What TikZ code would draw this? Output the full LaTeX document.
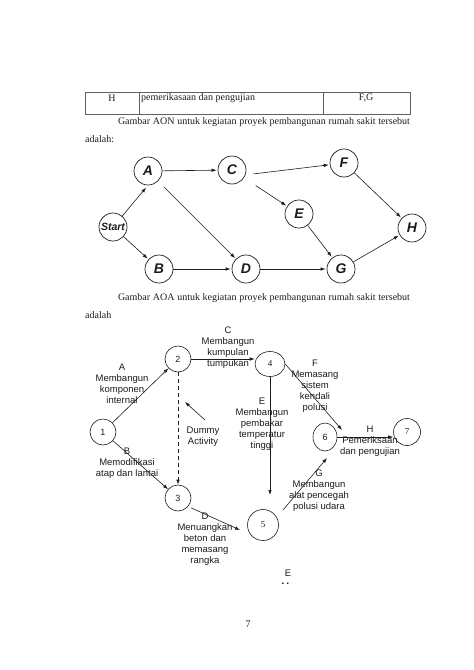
\documentclass[tikz,border=0pt]{standalone}
\usepackage{fontspec}
\setmainfont{Liberation Serif}
\setsansfont{Liberation Sans}
\usetikzlibrary{arrows.meta,calc,shapes.geometric}
\definecolor{ink}{HTML}{1C1C1C}

\tikzset{
  aon/.style={circle,draw=ink,line width=0.7pt,minimum size=28pt,inner sep=0pt,
    font=\sffamily\bfseries\itshape\fontsize{14}{14}\selectfont},
  aoa/.style={circle,draw=ink,line width=0.6pt,minimum size=26pt,inner sep=0pt,
    font=\sffamily\fontsize{9}{9}\selectfont},
  aoaser/.style={ellipse,draw=ink,line width=0.6pt,inner sep=0pt,
    font=\rmfamily\fontsize{9}{9}\selectfont},
  act/.style={align=center,inner sep=0pt,font=\sffamily\fontsize{9.5}{11}\selectfont},
  body/.style={inner sep=0pt,font=\rmfamily\fontsize{10}{12}\selectfont},
  arr/.style={-{Latex[length=5pt,width=3.5pt]},line width=0.6pt,draw=ink}
}

\begin{document}
\begin{tikzpicture}[x=1pt,y=-1pt,text=ink]
  \useasboundingbox (0,0) rectangle (474,670);

  \draw[line width=0.5pt,ink!70] (85,92) rectangle (410,114)
    (139,92)--(139,114) (323,92)--(323,114);
  \node[body] (hcell) at (112,98) {H};
  \node[body,anchor=west] (hdesc) at (141,98) {pemerikasaan dan pengujian};
  \node[body] (hpre) at (366,98) {F,G};

  \node[body] (capaon) at (264,122)
    {\makebox[292pt][s]{Gambar AON untuk kegiatan proyek pembangunan rumah sakit tersebut}};
  \node[body,anchor=west] (adaon) at (85,139) {adalah:};

  \node[aon] (S) at (113,227) {\fontsize{10.5}{10.5}\selectfont Start};
  \node[aon] (A) at (148,171) {A};
  \node[aon] (B) at (159,269) {B};
  \node[aon] (C) at (232,170) {C};
  \node[aon] (D) at (246,269) {D};
  \node[aon] (E) at (299,214) {E};
  \node[aon] (F) at (344,163) {F};
  \node[aon] (G) at (341,269) {G};
  \node[aon] (H) at (412,228) {H};

  \draw[arr,shorten >=3pt] (S) -- (A.south);
  \foreach \a/\b in {S/B,A/C,B/D,D/G,E/G,F/H,G/H}{
    \draw[arr,shorten >=1pt] (\a) -- (\b);
  }
  \draw[arr,shorten <=8pt,shorten >=1pt] (A) -- (D);
  \draw[arr,shorten <=14pt,shorten >=1pt] (C) -- (E);
  \draw[arr,shorten <=8pt,shorten >=1pt] (C.-20) -- (F);

  \node[body] (capaoa) at (264,298)
    {\makebox[292pt][s]{Gambar AOA untuk kegiatan proyek pembangunan rumah sakit tersebut}};
  \node[body,anchor=west] (adaoa) at (85,315) {adalah};

  \node[aoa] (n1) at (103,432) {1};
  \node[aoa] (n2) at (178,359) {2};
  \node[aoa] (n3) at (178,498) {3};
  \node[aoaser,minimum width=30pt,minimum height=25pt] (n4) at (270,364) {4};
  \node[aoaser,minimum size=31pt] (n5) at (263,525) {5};
  \node[aoa,ellipse,minimum width=24pt,minimum height=28pt] (n6) at (325,437) {6};
  \node[aoaser,minimum size=27pt] (n7) at (407,432) {7};

  \node[act] (la) at (122,384) {A\\Membangun\\komponen\\internal};
  \node[act] (lb) at (127,463.5) {B\\Memodifikasi\\atap dan lantai};
  \node[act] (lc) at (228,347.5) {C\\Membangun\\kumpulan\\tumpukan};
  \node[act] (ld) at (205,539.5) {D\\Menuangkan\\beton dan\\memasang\\rangka};
  \node[act] (le) at (262,424.5) {E\\Membangun\\pembakar\\temperatur\\tinggi};
  \node[act] (lf) at (315,386.5) {F\\Memasang\\sistem\\kendali\\polusi};
  \node[act] (lg) at (319,491) {G\\Membangun\\alat pencegah\\polusi udara};
  \node[act] (lh) at (370,441.5) {H\\Pemeriksaan\\dan pengujian};
  \node[act] (ldum) at (203,436.5) {Dummy\\Activity};

  \coordinate (dtail) at (205,420);
  \coordinate (dtip) at (185,402);
  \coordinate (t45) at (270,495);
  \coordinate (t35) at (240,530);
  \coordinate (s56) at (283,510);
  \coordinate (t56) at (327,458);
  \coordinate (t46) at (342,430);

  \draw[arr] (n1) -- (n2);
  \draw[arr] (n1) -- (n3);
  \draw[arr,dash pattern=on 4pt off 3pt] (n2) -- (n3);
  \draw[arr] (n2.east) -- (n2.east -| n4.west);
  \draw[arr] (n4) -- (t45);
  \draw[arr,shorten <=3pt] (n3.-40) -- (t35);
  \draw[arr] (s56) -- (t56);
  \draw[arr] (n4.east) -- (t46);
  \draw[arr] (n6.east) -- (n6.east -| n7.west);
  \draw[arr] (dtail) -- (dtip);

  \node[act] (lend) at (288,573) {E};
  \begin{scope}
    \clip (270,579) rectangle (310,583);
    \node[act] (lcut) at (288,586) {Me};
  \end{scope}

  \node[body] (pg) at (248,624) {7};
\end{tikzpicture}
\end{document}
